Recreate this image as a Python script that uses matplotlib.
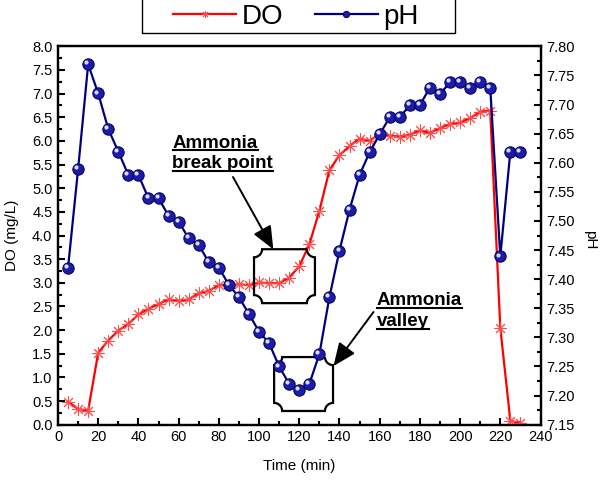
import numpy as np
import matplotlib
matplotlib.use("Agg")
import matplotlib.pyplot as plt
from matplotlib.path import Path
from matplotlib.patches import PathPatch, Rectangle
from matplotlib.lines import Line2D
from matplotlib.ticker import MultipleLocator, FormatStrFormatter
from matplotlib.transforms import ScaledTranslation

plt.rcParams["font.family"] = ["Liberation Sans", "DejaVu Sans"]

# ── data ──────────────────────────────────────────────────────────────────
time_min = [5, 10, 15, 20, 25, 30, 35, 40, 45, 50, 55, 60, 65, 70, 75, 80,
            85, 90, 95, 100, 105, 110, 115, 120, 125, 130, 135, 140, 145,
            150, 155, 160, 165, 170, 175, 180, 185, 190, 195, 200, 205, 210,
            215, 220, 225, 230]
do_mg_l = [0.49, 0.33, 0.30, 1.52, 1.78, 1.99, 2.13, 2.33, 2.45, 2.55, 2.65,
           2.62, 2.65, 2.78, 2.83, 2.95, 2.95, 2.97, 2.95, 3.01, 2.99, 2.99,
           3.11, 3.35, 3.81, 4.52, 5.38, 5.70, 5.89, 6.05, 6.00, 6.15, 6.11,
           6.09, 6.13, 6.22, 6.17, 6.27, 6.36, 6.39, 6.48, 6.62, 6.64, 2.05,
           0.08, 0.04]
ph = [7.420, 7.589, 7.769, 7.719, 7.658, 7.619, 7.579, 7.579, 7.539, 7.539,
      7.509, 7.499, 7.470, 7.459, 7.429, 7.420, 7.390, 7.369, 7.340, 7.310,
      7.290, 7.250, 7.220, 7.210, 7.220, 7.271, 7.369, 7.449, 7.519, 7.579,
      7.618, 7.649, 7.678, 7.678, 7.699, 7.699, 7.729, 7.718, 7.738, 7.738,
      7.728, 7.739, 7.729, 7.439, 7.619, 7.619]

# annotation boxes (time, DO) and notch size
BOX_BREAK  = (97.5, 2.57, 127.8, 3.71)
BOX_VALLEY = (107.5, 0.29, 136.8, 1.43)
NOTCH_X, NOTCH_Y = 4.0, 0.17

W, H = 602, 480


def fx(px):
    return px / W


def fy(py):
    return 1 - py / H


def notched_box(x0, y0, x1, y1, rx, ry):
    # rectangle with concave (inward) quarter-circle corners
    verts = []
    def arc(cx, cy, a0, a1):
        th = np.radians(np.linspace(a0, a1, 12))
        return list(zip(cx + rx * np.cos(th), cy + ry * np.sin(th)))
    verts += arc(x1, y1, 180, 270)
    verts += arc(x1, y0, 90, 180)
    verts += arc(x0, y0, 0, 90)
    verts += arc(x0, y1, -90, 0)
    verts.append(verts[0])
    codes = [Path.MOVETO] + [Path.LINETO] * (len(verts) - 1)
    return Path(verts, codes)


fig = plt.figure(figsize=(W / 100, H / 100), dpi=100)
ax = fig.add_axes([fx(58), fy(424.7), fx(540.5) - fx(58), fy(46.3) - fy(424.7)])
ax2 = ax.twinx()

RED = "#ff0000"
NAVY = "#00007f"

l_do, = ax.plot(time_min, do_mg_l, color=RED, lw=1.6, marker=(8, 2, 0),
                ms=9, mec="#ff4a4a", mew=0.7, zorder=3)
l_ph, = ax2.plot(time_min, ph, color=NAVY, lw=1.6, marker="o", ms=8.2,
                 mfc="#1c1ca8", mec="#00005a", mew=0.7, zorder=3)
# sphere highlight
hl = ax2.transData + ScaledTranslation(-1.4 / 72, 1.4 / 72, fig.dpi_scale_trans)
ax2.plot(time_min, ph, ls="none", marker="o", ms=3.0, mfc="#dcdcff",
         mec="none", transform=hl, zorder=4)

ax.set_xlim(0, 240)
ax.set_ylim(0, 8)
ax2.set_ylim(7.15, 7.80)

ax.xaxis.set_major_locator(MultipleLocator(20))
ax.xaxis.set_minor_locator(MultipleLocator(10))
ax.yaxis.set_major_locator(MultipleLocator(0.5))
ax.yaxis.set_minor_locator(MultipleLocator(0.25))
ax.yaxis.set_major_formatter(FormatStrFormatter("%.1f"))
ax2.yaxis.set_major_locator(MultipleLocator(0.05))
ax2.yaxis.set_minor_locator(MultipleLocator(0.025))
ax2.yaxis.set_major_formatter(FormatStrFormatter("%.2f"))

for a in (ax, ax2):
    a.tick_params(which="major", direction="in", length=5, width=1.5,
                  labelsize=10.5, pad=4)
    a.tick_params(which="minor", direction="in", length=3, width=1.5)
    for s in a.spines.values():
        s.set_linewidth(1.6)
ax.tick_params(axis="y", right=False)
ax.tick_params(axis="x", top=False, which="both")

fig.text(fx(12), fy(235), "DO (mg/L)", rotation=90, ha="center",
         va="center", fontsize=11)
fig.text(fx(590), fy(240), "pH", rotation=-90, ha="center", va="center",
         fontsize=11)
fig.text(fx(299), fy(466), "Time (min)", ha="center", va="center",
         fontsize=11)

# annotation boxes
for b in (BOX_BREAK, BOX_VALLEY):
    ax.add_patch(PathPatch(notched_box(*b, NOTCH_X, NOTCH_Y), fill=False,
                           ec="black", lw=1.6, zorder=5))

arrow = dict(arrowstyle="-|>,head_length=0.7,head_width=0.3", color="black",
             lw=1.4, mutation_scale=20, shrinkA=0, shrinkB=0)
ax.annotate("", xy=(fx(273.3), fy(249.3)), xycoords="figure fraction",
            xytext=(fx(233), fy(177)), textcoords="figure fraction",
            arrowprops=arrow, zorder=6)
ax.annotate("", xy=(fx(333.5), fy(366)), xycoords="figure fraction",
            xytext=(fx(373.5), fy(312)), textcoords="figure fraction",
            arrowprops=arrow, zorder=6)

notes = [("Ammonia", 172.5, 147.5), ("break point", 172.5, 168.5),
         ("Ammonia", 377, 305), ("valley", 377, 326.5)]
note_texts = [fig.text(fx(x), fy(y), s, ha="left", va="baseline",
                       fontsize=13.5, fontweight="bold")
              for s, x, y in notes]

# legend above the axes, with its own wide frame
leg = fig.legend([l_do, l_ph], ["DO", "pH"], ncol=2, loc="center",
                 bbox_to_anchor=(fx(296), fy(16.5)), fontsize=20,
                 frameon=False, borderpad=0, handlelength=2.25,
                 handletextpad=0.2, columnspacing=1.15, markerscale=0.55,
                 borderaxespad=0)
fig.add_artist(Rectangle((fx(142), fy(33)), fx(455) - fx(142), fy(-1) - fy(33),
                         transform=fig.transFigure, fill=False, ec="black",
                         lw=1.0))

# underline the annotation text
fig.canvas.draw()
r = fig.canvas.get_renderer()
for t in note_texts:
    bb = t.get_window_extent(r)
    ybase = t.get_position()[1] * H - 2.5
    fig.add_artist(Line2D([bb.x0 / W, bb.x1 / W], [ybase / H, ybase / H],
                          transform=fig.transFigure, color="black", lw=1.5))

fig.savefig("out.png", dpi=100)
